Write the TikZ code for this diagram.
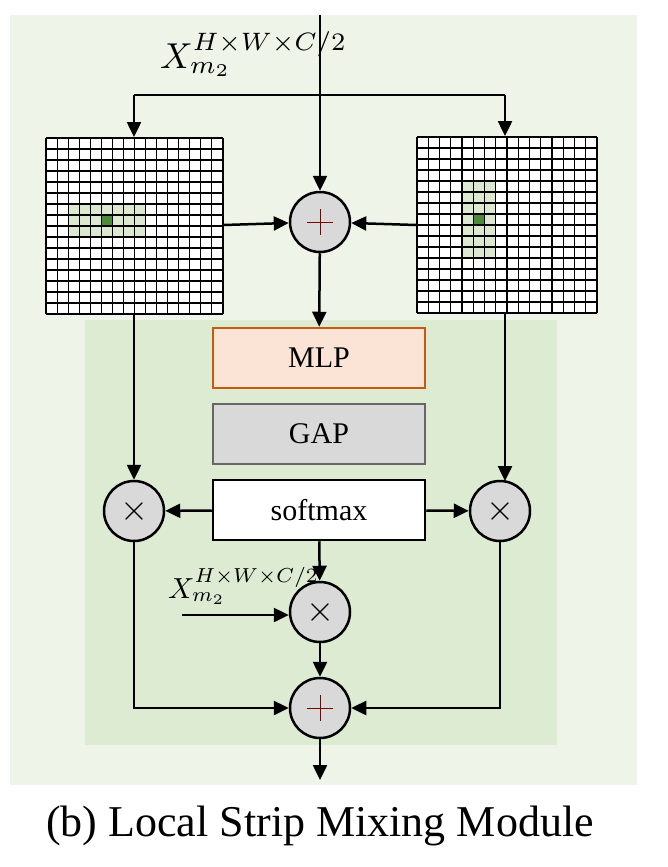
\documentclass[tikz,border=0pt]{standalone}
\usepackage{fontspec}
\setmainfont{Liberation Serif}
\usepackage{graphicx}
\usetikzlibrary{arrows.meta}
\definecolor{bgout}{HTML}{EEF5E8}
\definecolor{bgin}{HTML}{DDEBD3}
\definecolor{peach}{HTML}{FBE3D6}
\definecolor{orng}{HTML}{C55A11}
\definecolor{gapg}{HTML}{D9D9D9}
\definecolor{hl}{HTML}{DCE9D0}
\definecolor{dk}{HTML}{4E8A3A}
\begin{document}
\begin{tikzpicture}[x=1pt,y=-1pt,
 op/.style={circle,draw,line width=2.5pt,fill=gapg,minimum size=60pt,inner sep=0pt},
 box/.style={draw,line width=2.5pt,minimum width=212pt,minimum height=60pt,font=\fontsize{30}{34}\selectfont},
 ar/.style={-{Triangle[length=15pt,width=14pt]},line width=2.5pt},
 ln/.style={line width=2.5pt},
 gl/.style={line width=1.1pt}]
\useasboundingbox (0,0) rectangle (668,867);
\fill[bgout] (10,15) rectangle (637,785);
\fill[bgin] (85,320) rectangle (557,745);
% left grid
\fill[white] (46,138) rectangle (223,314);
\fill[hl] (46+2*11.06,138+6*11) rectangle (46+9*11.06,138+9*11);
\fill[dk] (46+5*11.06,138+7*11) rectangle (46+6*11.06,138+8*11);
\foreach \i in {0,...,16}{
 \draw[gl] (46+\i*11.06,138) -- (46+\i*11.06,314);
 \draw[gl] (46,138+\i*11) -- (223,138+\i*11);}
\node[inner sep=0,minimum width=177pt,minimum height=176pt] (gl) at (134.5,226) {};
% right grid
\fill[white] (417,137) rectangle (597,313);
\fill[hl] (417+4*11.25,137+4*11) rectangle (417+7*11.25,137+11*11);
\fill[dk] (417+5*11.25,137+7*11) rectangle (417+6*11.25,137+8*11);
\foreach \i in {0,...,16}{
 \draw[gl] (417+\i*11.25,137) -- (417+\i*11.25,313);
 \draw[gl] (417,137+\i*11) -- (597,137+\i*11);}
\node[inner sep=0,minimum width=180pt,minimum height=176pt] (gr) at (507,225) {};
% ops
\node[op] (p1) at (320,222) {};
\draw[red!50!black,line width=0.9pt] (p1.center)+(-13,0) -- +(13,0) (p1.center)+(0,-13) -- +(0,13);
\node[op] (tl) at (134,511) {\scalebox{3.6}{$\times$}};
\node[op] (tr) at (500,511) {\scalebox{3.6}{$\times$}};
\node[op] (tm) at (320,612) {\scalebox{3.6}{$\times$}};
\node[op] (p2) at (320,708) {};
\draw[red!50!black,line width=0.9pt] (p2.center)+(-13,0) -- +(13,0) (p2.center)+(0,-13) -- +(0,13);
% boxes
\node[box,draw=orng,fill=peach] (mlp) at (319,358) {MLP};
\node[box,draw=gray!80!black,fill=gapg] (gap) at (319,434) {GAP};
\node[box,fill=white] (sm) at (319,510) {softmax};
% labels
\node[anchor=west,inner sep=0] (x1) at (160,54) {\scalebox{3.6}{$X_{m_2}^{H\times W\times C/2}$}};
\node[anchor=west,inner sep=0] (x2) at (168,586) {\scalebox{2.9}{$X_{m_2}^{H\times W\times C/2}$}};
\node[font=\fontsize{44}{48}\selectfont] (cap) at (320,826) {(b) Local Strip Mixing Module};
% connectors
\coordinate (top) at (320,15);
\coordinate (bl) at (134,95);
\coordinate (br) at (505,95);
\draw[ar] (top) -- (p1);
\draw[ln] (bl) -- (br);
\draw[ar] (bl) -- (134,137);
\draw[ar] (br) -- (505,136);
\draw[ar] (224,225) -- (p1);
\draw[ar] (416,225) -- (p1);
\draw[ar] (p1) -- (mlp);
\draw[ar] (134,314) -- (tl);
\draw[ar] (505,313) -- (505,481);
\draw[ar] (sm) -- (tl);
\draw[ar] (sm) -- (tr);
\draw[ar] (sm) -- (tm);
\coordinate (xin) at (182,615);
\draw[ar] (xin) -- (tm.west|-xin);
\draw[ar] (tm) -- (p2);
\draw[ar] (tl) |- (p2);
\draw[ar] (tr) |- (p2);
\coordinate (out) at (320,780);
\draw[ar] (p2) -- (out);
\end{tikzpicture}
\end{document}
